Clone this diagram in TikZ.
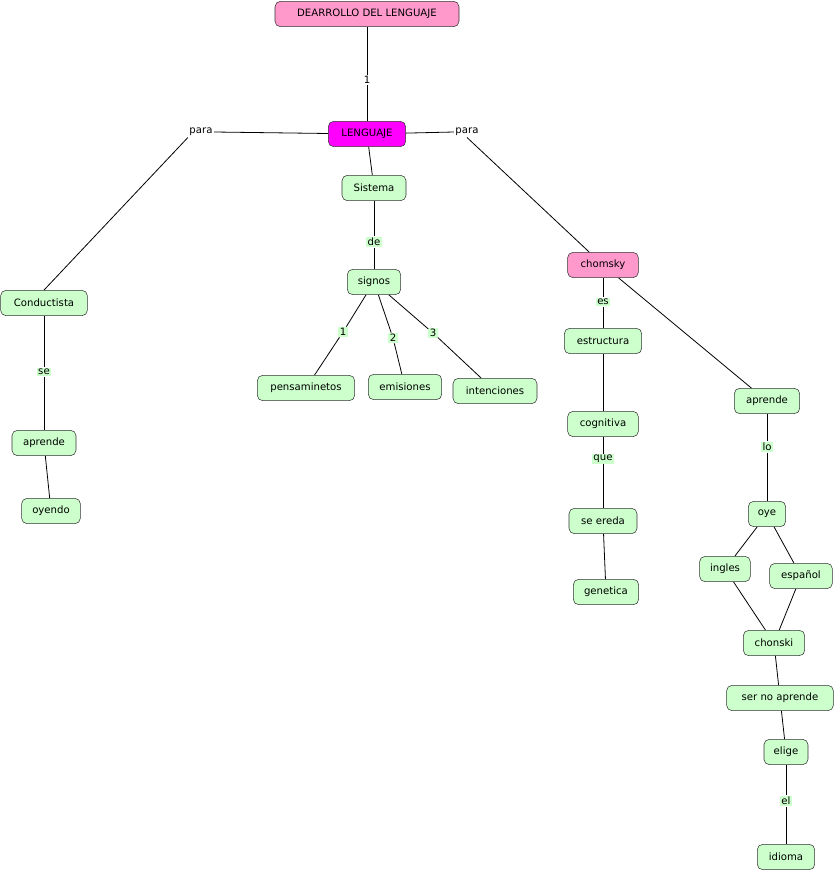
\documentclass[tikz,border=0pt]{standalone}
\usepackage{fontspec}
\setmainfont{DejaVu Sans}
\begin{document}
\begin{tikzpicture}[x=0.75pt,y=-0.75pt,
  box/.style={draw=black!80,rounded corners=4pt,fill=gfill,inner sep=0pt,minimum height=19pt,font=\fontsize{7.6}{9}\selectfont},
  lab/.style={fill=gfill,inner sep=1pt,font=\fontsize{7.6}{9}\selectfont},
  wlab/.style={fill=white,inner sep=1pt,font=\fontsize{7.6}{9}\selectfont},
  line/.style={draw=black,line width=0.6pt}]
\definecolor{gfill}{HTML}{CCFFCC}
\definecolor{pinkf}{HTML}{FF99CC}
\definecolor{magf}{HTML}{FF00FF}
\useasboundingbox (0,0) rectangle (837,871);
\node[box,fill=pinkf,minimum width=138pt] (t) at (367,14) {DEARROLLO DEL LENGUAJE};
\node[box,fill=magf,minimum width=58pt] (len) at (367,134) {LENGUAJE};
\node[wlab] (l1) at (367,80) {1};
\node[wlab] (pl) at (201,132) {para};
\node[wlab] (pr) at (467,132) {para};
\node[box,minimum width=48pt] (sis) at (374,188) {Sistema};
\node[lab] (de) at (374,242) {de};
\node[box,minimum width=40pt] (sig) at (374,282) {signos};
\node[box,minimum width=73pt] (pen) at (306,388) {pensaminetos};
\node[box,minimum width=55pt] (emi) at (405,387) {emisiones};
\node[box,minimum width=63pt] (int) at (495,391) {intenciones};
\node[lab] (n1) at (343,332) {1};
\node[lab] (n2) at (393,338) {2};
\node[lab] (n3) at (433,333) {3};
\node[box,minimum width=65pt] (con) at (44,303) {Conductista};
\node[lab] (se) at (44,372) {se};
\node[box,minimum width=48pt] (apl) at (44,443) {aprende};
\node[box,minimum width=44pt] (oyd) at (51,511) {oyendo};
\node[box,fill=pinkf,minimum width=53pt] (cho) at (603,265) {chomsky};
\node[lab] (es) at (603,302) {es};
\node[box,minimum width=58pt] (est) at (603,341) {estructura};
\node[box,minimum width=53pt] (cog) at (603,424) {cognitiva};
\node[lab] (que) at (603,459) {que};
\node[box,minimum width=51pt] (ser) at (603,521) {se ereda};
\node[box,minimum width=49pt] (gen) at (606,592) {genetica};
\node[box,minimum width=49pt] (apr) at (767,401) {aprende};
\node[lab] (lo) at (767,447) {lo};
\node[box,minimum width=28pt] (oye) at (767,514) {oye};
\node[box,minimum width=38pt] (ing) at (725,569) {ingles};
\node[box,minimum width=47pt] (esp) at (801,576) {español};
\node[box,minimum width=46pt] (chk) at (774,643) {chonski};
\node[box,minimum width=80pt] (sna) at (780,698) {ser no aprende};
\node[box,minimum width=33pt] (eli) at (786,752) {elige};
\node[lab] (el) at (786,801) {el};
\node[box,minimum width=43pt] (idi) at (786,857) {idioma};
\begin{scope}[on background layer/.try]
\end{scope}
\path[line] (t) -- (l1) -- (len);
\path[line] (len) -- (pl.east);
\path[line] (pl.south west) ++(0,0) -- (con.north);
\path[line] (len) -- (pr.west);
\path[line] (pr.south) -- (cho);
\path[line] (len) -- (sis);
\path[line] (sis) -- (de) -- (sig);
\path[line] (sig) -- (n1) -- (pen);
\path[line] (sig) -- (n2) -- (emi);
\path[line] (sig) -- (n3) -- (int);
\path[line] (con) -- (se) -- (apl);
\path[line] (apl) -- (oyd);
\path[line] (cho) -- (es) -- (est);
\path[line] (est) -- (cog);
\path[line] (cog) -- (que) -- (ser);
\path[line] (ser) -- (gen);
\path[line] (cho) -- (apr);
\path[line] (apr) -- (lo) -- (oye);
\path[line] (oye) -- (ing);
\path[line] (oye) -- (esp);
\path[line] (ing) -- (chk);
\path[line] (esp) -- (chk);
\path[line] (chk) -- (sna);
\path[line] (sna) -- (eli);
\path[line] (eli) -- (el) -- (idi);
\end{tikzpicture}
\end{document}
